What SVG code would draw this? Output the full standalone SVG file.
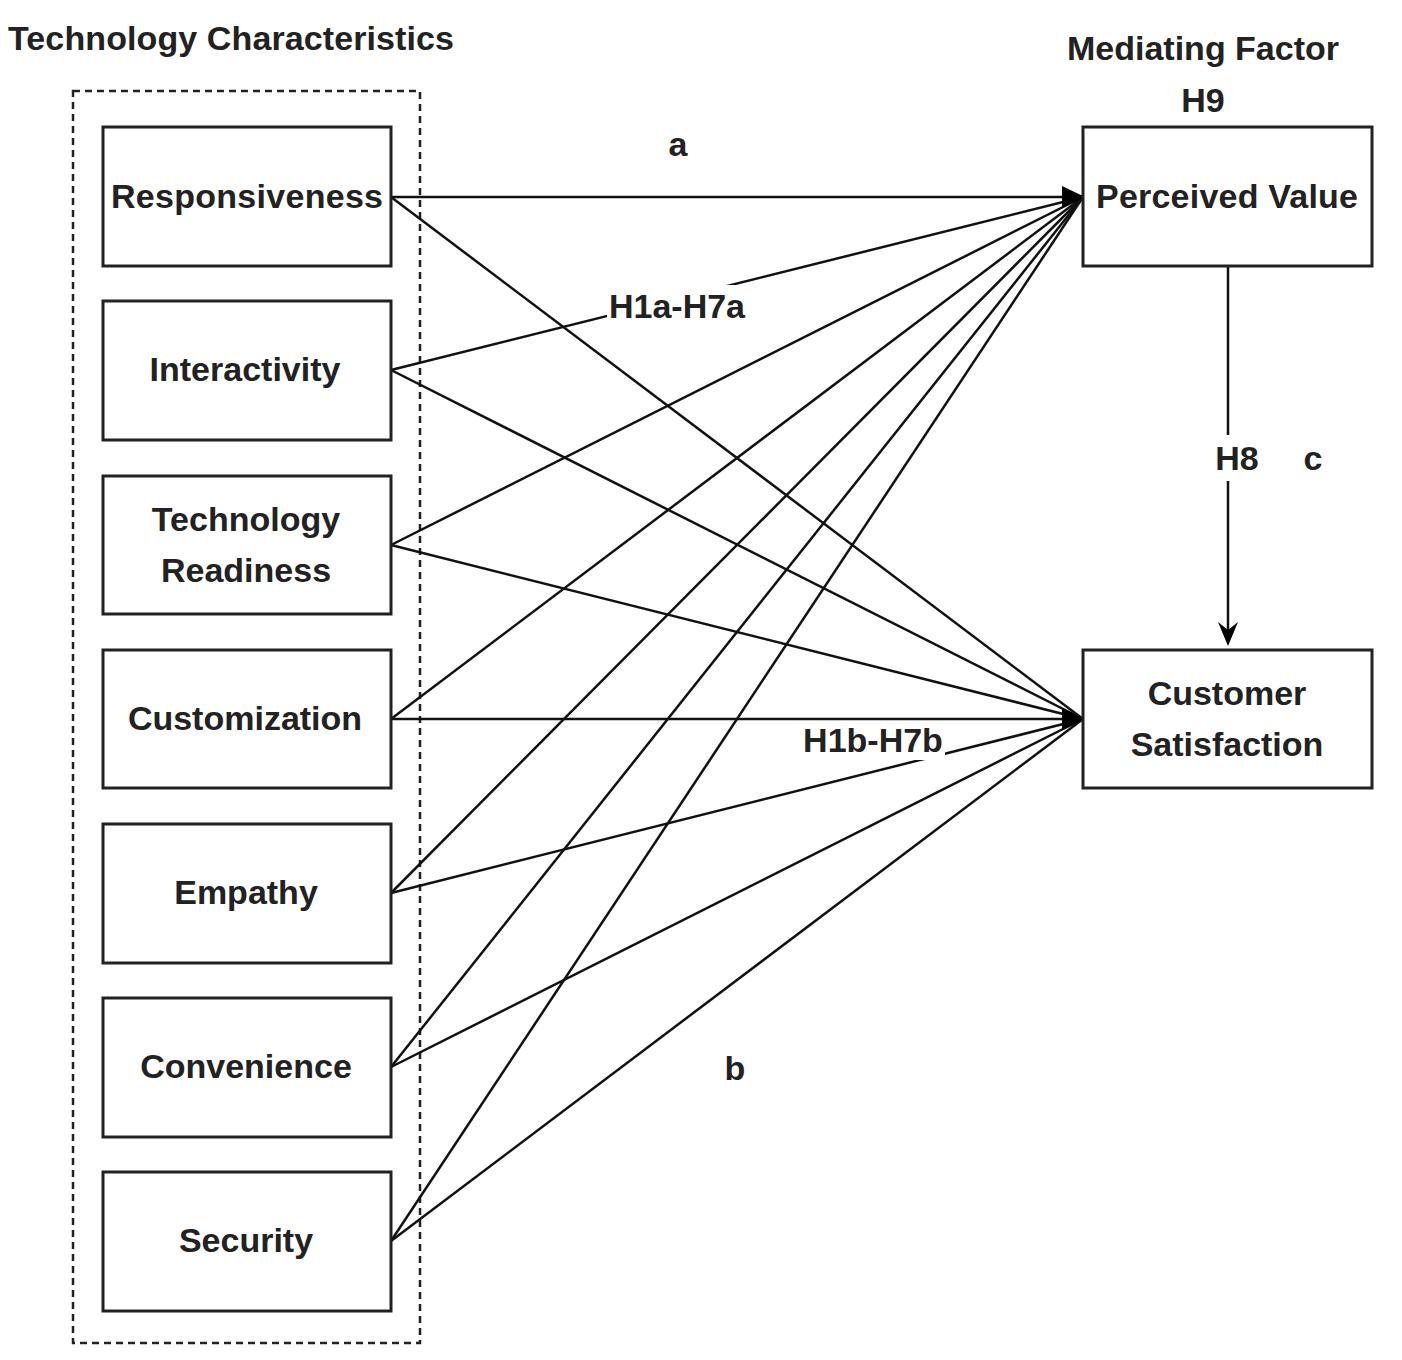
<svg xmlns="http://www.w3.org/2000/svg" width="1402" height="1360" viewBox="0 0 1402 1360">
<defs>
<style>
text{font-family:"Liberation Sans",Arial,sans-serif;font-size:34px;font-weight:bold;fill:#222;text-anchor:middle}
.box{fill:#fff;stroke:#222;stroke-width:3}
.c line{stroke:#111;stroke-width:2.5}
</style>
</defs>
<rect width="1402" height="1360" fill="#fff"/>
<text x="8" y="50" style="text-anchor:start" textLength="446">Technology Characteristics</text>
<text x="1203" y="60">Mediating Factor</text>
<text x="1203" y="112">H9</text>
<rect x="73" y="91" width="347" height="1252" fill="none" stroke="#222" stroke-width="2.5" stroke-dasharray="7,5"/>
<g class="c" id="connectors">
<line x1="391" y1="197" x2="1083" y2="197"/>
<line x1="391" y1="370" x2="1083" y2="197"/>
<line x1="391" y1="545" x2="1083" y2="197"/>
<line x1="391" y1="719" x2="1083" y2="197"/>
<line x1="391" y1="893" x2="1083" y2="197"/>
<line x1="391" y1="1067" x2="1083" y2="197"/>
<line x1="391" y1="1241" x2="1083" y2="197"/>
<line x1="391" y1="197" x2="1083" y2="719"/>
<line x1="391" y1="370" x2="1083" y2="719"/>
<line x1="391" y1="545" x2="1083" y2="719"/>
<line x1="391" y1="719" x2="1083" y2="719"/>
<line x1="391" y1="893" x2="1083" y2="719"/>
<line x1="391" y1="1067" x2="1083" y2="719"/>
<line x1="391" y1="1241" x2="1083" y2="719"/>
<line x1="1228" y1="266" x2="1228" y2="630"/>
</g>
<path d="M1062,186 L1085,197 L1062,208 z M1062,708 L1085,719 L1062,730 z" fill="#000"/>
<path d="M1218,622 L1228,646 L1238,622 L1228,630 z" fill="#000"/>
<rect x="607" y="285" width="140" height="40" fill="#fff"/>
<text x="677" y="318">H1a-H7a</text>
<rect x="803" y="722" width="142" height="38" fill="#fff"/>
<text x="873" y="752">H1b-H7b</text>
<rect x="1212" y="435" width="48" height="46" fill="#fff"/>
<text x="678" y="156">a</text>
<text x="735" y="1080">b</text>
<text x="1237" y="470">H8</text>
<text x="1313" y="470">c</text>
<g id="n1"><rect class="box" x="103" y="127" width="288" height="139"/><text x="247" y="208" textLength="272">Responsiveness</text></g>
<g id="n2"><rect class="box" x="103" y="301" width="288" height="139"/><text x="245" y="381">Interactivity</text></g>
<g id="n3"><rect class="box" x="103" y="476" width="288" height="138"/><text x="246" y="531">Technology</text><text x="246" y="582">Readiness</text></g>
<g id="n4"><rect class="box" x="103" y="650" width="288" height="138"/><text x="245" y="730">Customization</text></g>
<g id="n5"><rect class="box" x="103" y="824" width="288" height="139"/><text x="246" y="904">Empathy</text></g>
<g id="n6"><rect class="box" x="103" y="998" width="288" height="139"/><text x="246" y="1078">Convenience</text></g>
<g id="n7"><rect class="box" x="103" y="1172" width="288" height="139"/><text x="246" y="1252">Security</text></g>
<g id="pv"><rect class="box" x="1083" y="127" width="289" height="139"/><text x="1227" y="208" textLength="262">Perceived Value</text></g>
<g id="cs"><rect class="box" x="1083" y="650" width="289" height="138"/><text x="1227" y="705">Customer</text><text x="1227" y="756">Satisfaction</text></g>
</svg>
